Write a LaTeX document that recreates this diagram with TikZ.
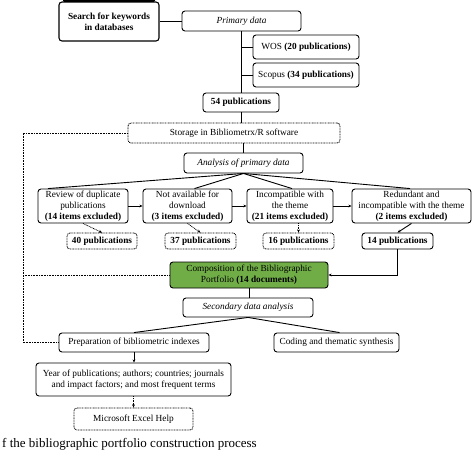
\documentclass[tikz,border=0pt]{standalone}
\usepackage{fontspec}
\setmainfont{Liberation Serif}
\usetikzlibrary{arrows.meta,calc}
\definecolor{portgreen}{HTML}{70AD47}
\tikzset{
  box/.style={draw=black, line width=0.9pt, rounded corners=3pt, align=center,
    inner sep=0pt, font=\fontsize{9.3}{11}\selectfont, fill=white},
  dotbox/.style={box, dash pattern=on 0.9pt off 0.7pt, line width=0.8pt},
  link/.style={draw=black, line width=0.9pt},
  dotlink/.style={draw=black, line width=0.7pt, dash pattern=on 0.9pt off 0.7pt},
  tip/.style={-{Stealth[length=3.2pt,width=2.8pt]}},
}
\begin{document}
\begin{tikzpicture}[x=1pt,y=-1pt]
\useasboundingbox (0,0) rectangle (474,451);
\fill[white] (0,0) rectangle (474,451);
% cut-off black box above
\fill[black, rounded corners=1.5pt] (63,-4) rectangle (155,2.2);

% nodes
\node[box, line width=1.1pt, minimum width=100pt, minimum height=39pt] (search) at (109,21.5)
  {\bfseries Search for keywords\\\bfseries in databases};
\node[box, minimum width=119pt, minimum height=20pt] (primary) at (241.5,21) {\itshape Primary data};
\node[box, minimum width=106pt, minimum height=24pt] (wos) at (306,47) {WOS \textbf{(20 publications)}};
\node[box, minimum width=106pt, minimum height=24pt] (scopus) at (306,75) {Scopus \textbf{(34 publications)}};
\node[box, minimum width=76pt, minimum height=19pt] (p54) at (241,102.5) {\bfseries 54 publications};
\node[dotbox, minimum width=212pt, minimum height=20pt] (storage) at (234,133) {Storage in Bibliometrx/R software};
\node[box, minimum width=119pt, minimum height=20pt] (analysis) at (243.5,163) {\itshape Analysis of primary data};

\node[box, minimum width=90pt, minimum height=34pt] (b1) at (83,206)
  {Review of duplicate\\publications\\\textbf{(14 items excluded)}};
\node[box, minimum width=89pt, minimum height=34pt] (b2) at (187.5,206)
  {Not available for\\download\\\textbf{(3 items excluded)}};
\node[box, minimum width=86pt, minimum height=34pt] (b3) at (290,206)
  {Incompatible with\\the theme\\\textbf{(21 items excluded)}};
\node[box, minimum width=119pt, minimum height=34pt] (b4) at (411.5,206)
  {Redundant and\\incompatible with the theme\\\textbf{(2 items excluded)}};

\node[dotbox, minimum width=70pt, minimum height=16pt] (p40) at (102,241) {\bfseries 40 publications};
\node[dotbox, minimum width=71pt, minimum height=16pt] (p37) at (200.5,241) {\bfseries 37 publications};
\node[dotbox, minimum width=71pt, minimum height=16pt] (p16) at (298.5,241) {\bfseries 16 publications};
\node[box, minimum width=71pt, minimum height=16pt] (p14) at (397.5,241) {\bfseries 14 publications};

\node[box, fill=portgreen, minimum width=158pt, minimum height=26pt] (comp) at (249,275)
  {Composition of the Bibliographic\\Portfolio \textbf{(14 documents)}};
\node[box, minimum width=130pt, minimum height=19pt] (secondary) at (248,307.5) {\itshape Secondary data analysis};
\node[box, minimum width=150pt, minimum height=19pt] (prep) at (134,342.5) {Preparation of bibliometric indexes};
\node[box, minimum width=125pt, minimum height=19pt] (coding) at (336.5,342.5) {Coding and thematic synthesis};
\node[box, minimum width=195pt, minimum height=33pt] (year) at (133.5,379.5)
  {Year of publications; authors; countries; journals\\and impact factors; and most frequent terms};
\node[dotbox, minimum width=119pt, minimum height=22pt] (excel) at (133.5,419) {Microsoft Excel Help};

% connectors
\draw[link] (search.east) -- (search.east -| primary.west);
\draw[link] (primary.south) -- (primary.south |- p54.north);
\draw[link] (primary.south |- wos.west) -- (wos.west);
\draw[link] (primary.south |- scopus.west) -- (scopus.west);
\draw[link] (p54.south) -- (p54.south |- storage.north);
\draw[link] (analysis.north |- storage.south) -- (analysis.north);

\draw[link] (analysis.south) -- ([xshift=-35pt]b1.north);
\draw[link] (analysis.south) -- ([xshift=7pt]b2.north);
\draw[link] (analysis.south) -- ([xshift=2pt]b3.north);
\draw[link] (analysis.south) -- ([xshift=-1.5pt]b4.north);

\draw[link, tip] (b1.east) -- (b2.west);
\draw[link, tip] (b2.east) -- (b3.west);
\draw[link, tip] (b3.east) -- (b4.west);

\draw[dotlink, tip] (b1.south) -- (p40.north);
\draw[dotlink, tip] (b2.south) -- (p37.north);
\draw[dotlink, tip] (p16.north |- b3.south) -- (p16.north);
\draw[link, tip] (b4.south) -- (p14.north);

\draw[link, tip] (p14.south) -- (p14.south |- comp.east) -- (comp.east);
\draw[link] (comp.south) -- (comp.south |- secondary.north);
\draw[link] (secondary.south) -- (prep.north);
\draw[link] (secondary.south) -- ([xshift=3pt]coding.north);
\draw[link, tip] (prep.south) -- (prep.south |- year.north);
\draw[dotlink, tip] (year.south) -- (excel.north);

\coordinate (ltop) at (23,133);
\coordinate (lmid) at (23,275);
\coordinate (lbot) at (23,342.5);
\draw[dotlink] (storage.west) -- (ltop) -- (lbot) -- (prep.west);
\draw[dotlink] (lmid) -- (comp.west);

% caption line at the bottom
\node[anchor=base west, inner sep=0pt, font=\fontsize{13}{14}\selectfont] (caption) at (2,447.5)
  {f the bibliographic portfolio construction process};
\end{tikzpicture}
\end{document}
